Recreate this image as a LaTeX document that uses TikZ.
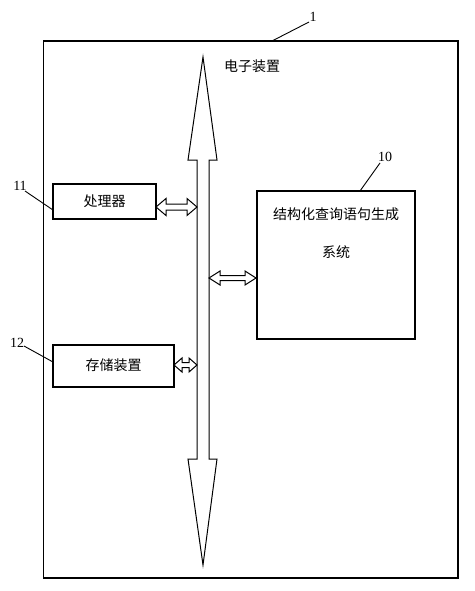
\documentclass[tikz,border=0pt]{standalone}
\usepackage{fontspec}
\setmainfont{Liberation Serif}
\newfontfamily\cjk{Noto Sans CJK SC}[Scale=1]
\tikzset{
  box/.style={draw, line width=1.1pt},
  cn/.style={font=\cjk\fontsize{14}{16}\selectfont, inner sep=0pt},
  num/.style={font=\fontsize{14}{16}\selectfont, inner sep=0pt},
  lead/.style={line width=0.9pt},
  hollow/.style={draw, line width=1pt, fill=white, line join=miter},
}
\newcommand{\myhdarrow}[6]{% xa xb y headhalf shafthalf headlen
  \draw[hollow] (#1,#3) -- (#1+#6,#3-#4) -- (#1+#6,#3-#5) -- (#2-#6,#3-#5) -- (#2-#6,#3-#4)
    -- (#2,#3) -- (#2-#6,#3+#4) -- (#2-#6,#3+#5) -- (#1+#6,#3+#5) -- (#1+#6,#3+#4) -- cycle;}
\begin{document}
\begin{tikzpicture}[x=1pt,y=-1pt]
\useasboundingbox (0,0) rectangle (474,591);
% outer box
\draw[box, line width=1.3pt] (43.5,41) rectangle (458,578);
\node[cn] (title) at (252,66) {电子装置};
\node[num] (n1) at (313,17) {1};
\coordinate (n1a) at (309,22);
\coordinate (n1b) at (272,41);
\draw[lead] (n1a) -- (n1b);
% bus
\draw[hollow] (203,57) -- (217,160) -- (209,160) -- (209,459) -- (217,459) -- (203,565)
  -- (188,459) -- (197,459) -- (197,160) -- (188,160) -- cycle;
% processor
\draw[box] (53,184) rectangle (156,219);
\node[cn] (proc) at (104.5,201.5) {处理器};
\node[num] (n11) at (20,186) {11};
\draw[lead] (25,191) -- (53,210);
\myhdarrow{156}{197}{207}{8.5}{3}{10}
% storage
\draw[box] (53,345) rectangle (174,387);
\node[cn] (mem) at (113.5,365) {存储装置};
\node[num] (n12) at (17,343) {12};
\draw[lead] (24,346) -- (53,362);
\myhdarrow{174}{197}{365}{7}{2.5}{8}
% system
\draw[box] (257,191) rectangle (415,339);
\node[cn] (sys1) at (336,214) {结构化查询语句生成};
\node[cn] (sys2) at (336,252) {系统};
\node[num] (n10) at (385,157) {10};
\draw[lead] (380,163) -- (360,191);
\myhdarrow{209}{256}{278}{7}{2.5}{11}
\end{tikzpicture}
\end{document}
